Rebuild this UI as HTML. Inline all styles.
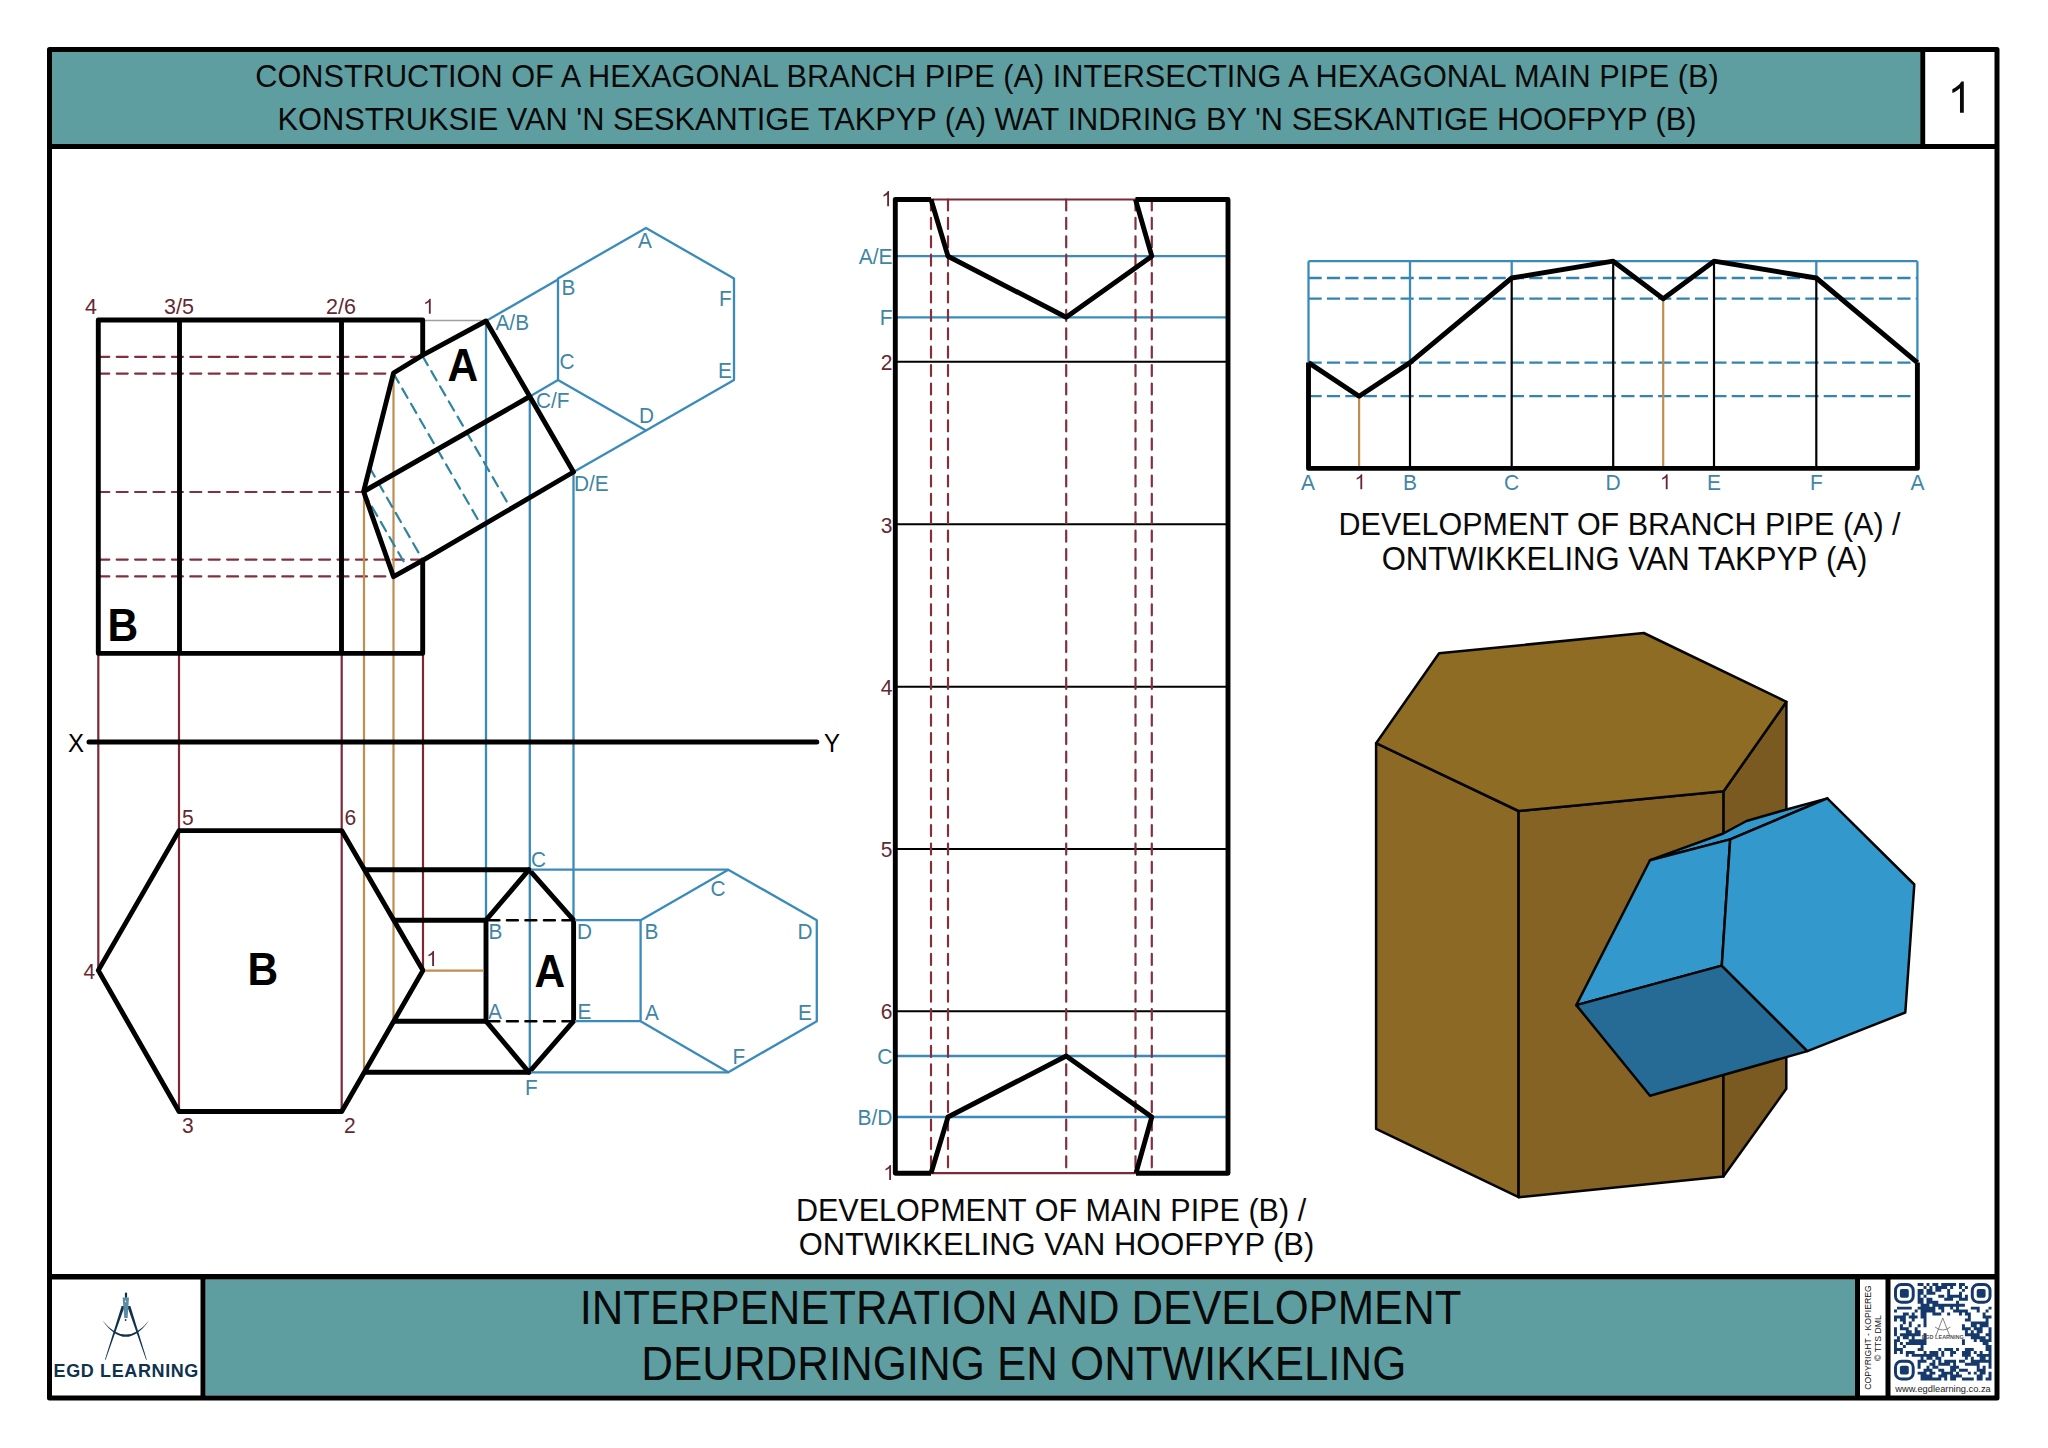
<!DOCTYPE html>
<html><head><meta charset="utf-8"><style>
html,body{margin:0;padding:0;background:#fff;width:2048px;height:1448px;overflow:hidden}
svg{display:block}
text{font-family:"Liberation Sans",sans-serif}
</style></head><body>
<svg width="2048" height="1448" viewBox="0 0 2048 1448">
<rect width="2048" height="1448" fill="#fff"/>
<rect x="52" y="52" width="1868" height="92" fill="#5F9EA0"/>
<rect x="205.5" y="1279.5" width="1649.5" height="116" fill="#5F9EA0"/>
<rect x="49.5" y="49.5" width="1947.5" height="1348.5" fill="none" stroke="#000" stroke-width="5" stroke-linejoin="round"/>
<line x1="49.5" y1="146.5" x2="1997" y2="146.5" stroke="#000" stroke-width="5" />
<line x1="1922.7" y1="49.5" x2="1922.7" y2="146.5" stroke="#000" stroke-width="5" />
<line x1="49.5" y1="1276.8" x2="1997" y2="1276.8" stroke="#000" stroke-width="5.5" />
<line x1="203" y1="1276.8" x2="203" y2="1398" stroke="#000" stroke-width="5" />
<line x1="1857.5" y1="1276.8" x2="1857.5" y2="1398" stroke="#000" stroke-width="5" />
<line x1="1888" y1="1276.8" x2="1888" y2="1398" stroke="#000" stroke-width="5" />
<text transform="translate(987,86.6) scale(1,1.04)" font-size="30.72" fill="#0a0a0a" text-anchor="middle" font-weight="normal" >CONSTRUCTION OF A HEXAGONAL BRANCH PIPE (A) INTERSECTING A HEXAGONAL MAIN PIPE (B)</text>
<text transform="translate(987,129.8) scale(1,1.04)" font-size="30.8" fill="#0a0a0a" text-anchor="middle" font-weight="normal" >KONSTRUKSIE VAN 'N SESKANTIGE TAKPYP (A) WAT INDRING BY 'N SESKANTIGE HOOFPYP (B)</text>
<path class="t" transform="translate(1947.6,112.7) scale(0.02124,-0.02124)" d="M763,0 L583,0 L583,1147 Q518,1085 413,1023 Q308,961 223,930 L223,1104 Q374,1175 487,1276 Q600,1377 647,1472 L763,1472 Z" fill="#0a0a0a"/>
<line x1="98.3" y1="356.8" x2="422.7" y2="356.8" stroke="#82303D" stroke-width="2.2" stroke-dasharray="11 7.4" stroke-linecap="round"/>
<line x1="98.3" y1="373.6" x2="393.5" y2="373.6" stroke="#82303D" stroke-width="2.2" stroke-dasharray="11 7.4" stroke-linecap="round"/>
<line x1="98.3" y1="492" x2="363.6" y2="492" stroke="#82303D" stroke-width="2.2" stroke-dasharray="11 7.4" stroke-linecap="round"/>
<line x1="98.3" y1="559.6" x2="422.7" y2="559.6" stroke="#82303D" stroke-width="2.2" stroke-dasharray="11 7.4" stroke-linecap="round"/>
<line x1="98.3" y1="576.4" x2="393.5" y2="576.4" stroke="#82303D" stroke-width="2.2" stroke-dasharray="11 7.4" stroke-linecap="round"/>
<line x1="98.3" y1="653.4" x2="98.3" y2="970.4" stroke="#7B2939" stroke-width="2.2" />
<line x1="179" y1="653.4" x2="179" y2="1111.5" stroke="#7B2939" stroke-width="2.2" />
<line x1="341.7" y1="653.4" x2="341.7" y2="1111.5" stroke="#7B2939" stroke-width="2.2" />
<line x1="423" y1="653.4" x2="423" y2="970.4" stroke="#7B2939" stroke-width="2.2" />
<line x1="364" y1="491.5" x2="364" y2="1071.4" stroke="#C08C50" stroke-width="2.2" />
<line x1="393.5" y1="373" x2="393.5" y2="1021.2" stroke="#C08C50" stroke-width="2.2" />
<line x1="486" y1="321" x2="486" y2="920.2" stroke="#3A8BBB" stroke-width="2.3" />
<line x1="529.8" y1="396.5" x2="529.8" y2="1072.3" stroke="#3A8BBB" stroke-width="2.3" />
<line x1="573.5" y1="472" x2="573.5" y2="920.2" stroke="#3A8BBB" stroke-width="2.3" />
<line x1="422.7" y1="320.5" x2="486" y2="320.5" stroke="#a0a0a0" stroke-width="1.5" />
<polygon points="646,228 734,278.5 734,380 646,430.5 558,380 558,278.5" fill="none" stroke="#3A8BBB" stroke-width="2.3" stroke-linejoin="round" />
<line x1="486" y1="321" x2="558" y2="279.5" stroke="#3A8BBB" stroke-width="2.3" />
<line x1="529.8" y1="396.5" x2="558" y2="380" stroke="#3A8BBB" stroke-width="2.3" />
<line x1="573.5" y1="472" x2="646" y2="430.5" stroke="#3A8BBB" stroke-width="2.3" />
<line x1="393.5" y1="373.5" x2="481.5" y2="525.8" stroke="#2F84A0" stroke-width="2.2" stroke-dasharray="10.5 7" stroke-linecap="round"/>
<line x1="422.5" y1="356" x2="510.5" y2="508" stroke="#2F84A0" stroke-width="2.2" stroke-dasharray="10.5 7" stroke-linecap="round"/>
<line x1="369.5" y1="467.4" x2="422.7" y2="559.8" stroke="#2F84A0" stroke-width="2.2" stroke-dasharray="10.5 7" stroke-linecap="round"/>
<line x1="363.2" y1="491.6" x2="407.7" y2="568.5" stroke="#2F84A0" stroke-width="2.2" stroke-dasharray="10.5 7" stroke-linecap="round"/>
<polyline points="422.7,355.2 422.7,320 98.3,320 98.3,653.4 422.7,653.4 422.7,560.4" fill="none" stroke="#000" stroke-width="4.9" stroke-linejoin="round" />
<line x1="179.5" y1="320" x2="179.5" y2="653.4" stroke="#000" stroke-width="4.9" />
<line x1="341.5" y1="320" x2="341.5" y2="653.4" stroke="#000" stroke-width="4.9" />
<polygon points="486,321 422.7,355.2 393.5,373 363.6,491.5 393.5,576.7 422.7,560.4 573.5,472 529.8,396.5" fill="none" stroke="#000" stroke-width="4.9" stroke-linejoin="round" />
<line x1="363.6" y1="491.5" x2="529.8" y2="396.5" stroke="#000" stroke-width="4.9" />
<text transform="translate(85,314) scale(1,1.04)" font-size="21.5" fill="#642833" text-anchor="start" font-weight="normal" >4</text>
<text transform="translate(164,314) scale(1,1.04)" font-size="21.5" fill="#642833" text-anchor="start" font-weight="normal" >3/5</text>
<text transform="translate(326,314) scale(1,1.04)" font-size="21.5" fill="#642833" text-anchor="start" font-weight="normal" >2/6</text>
<path class="t" transform="translate(422.9,313.8) scale(0.01025,-0.01025)" d="M763,0 L583,0 L583,1147 Q518,1085 413,1023 Q308,961 223,930 L223,1104 Q374,1175 487,1276 Q600,1377 647,1472 L763,1472 Z" fill="#642833"/>
<text transform="translate(638,247.6) scale(1,1.04)" font-size="20.8" fill="#3F86A6" text-anchor="start" font-weight="normal" >A</text>
<text transform="translate(561.5,295) scale(1,1.04)" font-size="20.8" fill="#3F86A6" text-anchor="start" font-weight="normal" >B</text>
<text transform="translate(719,305.6) scale(1,1.04)" font-size="20.8" fill="#3F86A6" text-anchor="start" font-weight="normal" >F</text>
<text transform="translate(495.5,330) scale(1,1.04)" font-size="20.8" fill="#3F86A6" text-anchor="start" font-weight="normal" >A/B</text>
<text transform="translate(559.5,369) scale(1,1.04)" font-size="20.8" fill="#3F86A6" text-anchor="start" font-weight="normal" >C</text>
<text transform="translate(718,378) scale(1,1.04)" font-size="20.8" fill="#3F86A6" text-anchor="start" font-weight="normal" >E</text>
<text transform="translate(536,408) scale(1,1.04)" font-size="20.8" fill="#3F86A6" text-anchor="start" font-weight="normal" >C/F</text>
<text transform="translate(639,422.7) scale(1,1.04)" font-size="20.8" fill="#3F86A6" text-anchor="start" font-weight="normal" >D</text>
<text transform="translate(574,491) scale(1,1.04)" font-size="20.8" fill="#3F86A6" text-anchor="start" font-weight="normal" >D/E</text>
<text transform="translate(447.5,381) scale(1,1.085)" font-size="42.5" fill="#000" text-anchor="start" font-weight="bold" >A</text>
<text transform="translate(107.5,640.6) scale(1,1.085)" font-size="42.5" fill="#000" text-anchor="start" font-weight="bold" >B</text>
<line x1="89" y1="742" x2="816.8" y2="742" stroke="#000" stroke-width="5" stroke-linecap="round"/>
<text transform="translate(68,751.5) scale(1,1.04)" font-size="24" fill="#000" text-anchor="start" font-weight="normal" >X</text>
<text transform="translate(824,751.5) scale(1,1.04)" font-size="24" fill="#000" text-anchor="start" font-weight="normal" >Y</text>
<polygon points="98.3,970.4 179,830.6 341.7,830.6 423,970.4 341.7,1111.5 179,1111.5" fill="none" stroke="#000" stroke-width="4.9" stroke-linejoin="round" />
<line x1="364.4" y1="869.7" x2="529" y2="869.7" stroke="#000" stroke-width="4.9" />
<line x1="393.8" y1="920.2" x2="486" y2="920.2" stroke="#000" stroke-width="4.9" />
<line x1="393.7" y1="1021.2" x2="486" y2="1021.2" stroke="#000" stroke-width="4.9" />
<line x1="364.3" y1="1072.3" x2="529" y2="1072.3" stroke="#000" stroke-width="4.9" />
<polygon points="486,920.2 529,869.7 573.6,920.2 573.6,1021.2 529,1072.3 486,1021.2" fill="none" stroke="#000" stroke-width="4.9" stroke-linejoin="round" />
<line x1="488.5" y1="920.2" x2="573.6" y2="920.2" stroke="#000" stroke-width="2.6" stroke-dasharray="10.8 7.7" stroke-linecap="round"/>
<line x1="488.5" y1="1021.2" x2="573.6" y2="1021.2" stroke="#000" stroke-width="2.6" stroke-dasharray="10.8 7.7" stroke-linecap="round"/>
<line x1="531" y1="869.7" x2="728.3" y2="869.7" stroke="#3A8BBB" stroke-width="2.3" />
<line x1="575" y1="920.2" x2="640.6" y2="920.2" stroke="#3A8BBB" stroke-width="2.3" />
<line x1="575" y1="1021.2" x2="640.6" y2="1021.2" stroke="#3A8BBB" stroke-width="2.3" />
<line x1="531" y1="1072.3" x2="728.3" y2="1072.3" stroke="#3A8BBB" stroke-width="2.3" />
<polygon points="728.3,869.7 816.8,920.2 816.8,1021.2 728.3,1072.3 640.6,1021.2 640.6,920.2" fill="none" stroke="#3A8BBB" stroke-width="2.3" stroke-linejoin="round" />
<line x1="425" y1="970.7" x2="484" y2="970.7" stroke="#C08C50" stroke-width="2.2" />
<text transform="translate(182,825) scale(1,1.04)" font-size="21" fill="#642833" text-anchor="start" font-weight="normal" >5</text>
<text transform="translate(344.5,825) scale(1,1.04)" font-size="21" fill="#642833" text-anchor="start" font-weight="normal" >6</text>
<text transform="translate(83.5,979) scale(1,1.04)" font-size="21" fill="#642833" text-anchor="start" font-weight="normal" >4</text>
<path class="t" transform="translate(426.2,966) scale(0.01025,-0.01025)" d="M763,0 L583,0 L583,1147 Q518,1085 413,1023 Q308,961 223,930 L223,1104 Q374,1175 487,1276 Q600,1377 647,1472 L763,1472 Z" fill="#642833"/>
<text transform="translate(182,1133) scale(1,1.04)" font-size="21" fill="#642833" text-anchor="start" font-weight="normal" >3</text>
<text transform="translate(344,1133) scale(1,1.04)" font-size="21" fill="#642833" text-anchor="start" font-weight="normal" >2</text>
<text transform="translate(531,866.5) scale(1,1.04)" font-size="20.8" fill="#3F86A6" text-anchor="start" font-weight="normal" >C</text>
<text transform="translate(488.5,938.5) scale(1,1.04)" font-size="20.8" fill="#3F86A6" text-anchor="start" font-weight="normal" >B</text>
<text transform="translate(577,938.5) scale(1,1.04)" font-size="20.8" fill="#3F86A6" text-anchor="start" font-weight="normal" >D</text>
<text transform="translate(488,1019) scale(1,1.04)" font-size="20.8" fill="#3F86A6" text-anchor="start" font-weight="normal" >A</text>
<text transform="translate(577.5,1019) scale(1,1.04)" font-size="20.8" fill="#3F86A6" text-anchor="start" font-weight="normal" >E</text>
<text transform="translate(525,1095) scale(1,1.04)" font-size="20.8" fill="#3F86A6" text-anchor="start" font-weight="normal" >F</text>
<text transform="translate(710.5,895.5) scale(1,1.04)" font-size="20.8" fill="#3F86A6" text-anchor="start" font-weight="normal" >C</text>
<text transform="translate(644.5,938.5) scale(1,1.04)" font-size="20.8" fill="#3F86A6" text-anchor="start" font-weight="normal" >B</text>
<text transform="translate(797.5,938.5) scale(1,1.04)" font-size="20.8" fill="#3F86A6" text-anchor="start" font-weight="normal" >D</text>
<text transform="translate(645,1020) scale(1,1.04)" font-size="20.8" fill="#3F86A6" text-anchor="start" font-weight="normal" >A</text>
<text transform="translate(798,1020) scale(1,1.04)" font-size="20.8" fill="#3F86A6" text-anchor="start" font-weight="normal" >E</text>
<text transform="translate(732.5,1064) scale(1,1.04)" font-size="20.8" fill="#3F86A6" text-anchor="start" font-weight="normal" >F</text>
<text transform="translate(247.5,984.5) scale(1,1.085)" font-size="42.5" fill="#000" text-anchor="start" font-weight="bold" >B</text>
<text transform="translate(534.5,986.8) scale(1,1.085)" font-size="42.5" fill="#000" text-anchor="start" font-weight="bold" >A</text>
<line x1="895.3" y1="361.8" x2="1228" y2="361.8" stroke="#000" stroke-width="2" />
<line x1="895.3" y1="524.3" x2="1228" y2="524.3" stroke="#000" stroke-width="2" />
<line x1="895.3" y1="686.7" x2="1228" y2="686.7" stroke="#000" stroke-width="2" />
<line x1="895.3" y1="849" x2="1228" y2="849" stroke="#000" stroke-width="2" />
<line x1="895.3" y1="1011.3" x2="1228" y2="1011.3" stroke="#000" stroke-width="2" />
<line x1="895.3" y1="256.2" x2="1228" y2="256.2" stroke="#3A8BBB" stroke-width="2.3" />
<line x1="895.3" y1="317.3" x2="1228" y2="317.3" stroke="#3A8BBB" stroke-width="2.3" />
<line x1="895.3" y1="1056" x2="1228" y2="1056" stroke="#3A8BBB" stroke-width="2.3" />
<line x1="895.3" y1="1117" x2="1228" y2="1117" stroke="#3A8BBB" stroke-width="2.3" />
<line x1="931" y1="199.5" x2="931" y2="1173.2" stroke="#82303D" stroke-width="2.2" stroke-dasharray="11 7.4" stroke-linecap="round"/>
<line x1="948" y1="199.5" x2="948" y2="1173.2" stroke="#82303D" stroke-width="2.2" stroke-dasharray="11 7.4" stroke-linecap="round"/>
<line x1="1066.2" y1="199.5" x2="1066.2" y2="1173.2" stroke="#82303D" stroke-width="2.2" stroke-dasharray="11 7.4" stroke-linecap="round"/>
<line x1="1135.5" y1="199.5" x2="1135.5" y2="1173.2" stroke="#82303D" stroke-width="2.2" stroke-dasharray="11 7.4" stroke-linecap="round"/>
<line x1="1151.8" y1="199.5" x2="1151.8" y2="1173.2" stroke="#82303D" stroke-width="2.2" stroke-dasharray="11 7.4" stroke-linecap="round"/>
<line x1="931" y1="199.5" x2="1135.5" y2="199.5" stroke="#7B2939" stroke-width="2.2" />
<line x1="931" y1="1173.2" x2="1136" y2="1173.2" stroke="#7B2939" stroke-width="2.2" />
<polyline points="931,199.5 895.3,199.5 895.3,1173.2 931,1173.2" fill="none" stroke="#000" stroke-width="4.9" stroke-linejoin="round" />
<polyline points="1135.5,199.5 1228,199.5 1228,1173.2 1136,1173.2" fill="none" stroke="#000" stroke-width="4.9" stroke-linejoin="round" />
<polyline points="931,199.5 948,256.2 1066.2,317.3 1151.8,256.2 1135.5,199.5" fill="none" stroke="#000" stroke-width="4.9" stroke-linejoin="round" />
<polyline points="931,1173.2 948,1117 1066.2,1056 1151.8,1117 1136,1173.2" fill="none" stroke="#000" stroke-width="4.9" stroke-linejoin="round" />
<path class="t" transform="translate(881.2,206.2) scale(0.01025,-0.01025)" d="M763,0 L583,0 L583,1147 Q518,1085 413,1023 Q308,961 223,930 L223,1104 Q374,1175 487,1276 Q600,1377 647,1472 L763,1472 Z" fill="#642833"/>
<path class="t" transform="translate(883.2,1180) scale(0.01025,-0.01025)" d="M763,0 L583,0 L583,1147 Q518,1085 413,1023 Q308,961 223,930 L223,1104 Q374,1175 487,1276 Q600,1377 647,1472 L763,1472 Z" fill="#642833"/>
<text transform="translate(892.5,264) scale(1,1.04)" font-size="21" fill="#3F86A6" text-anchor="end" font-weight="normal" >A/E</text>
<text transform="translate(892.5,324.5) scale(1,1.04)" font-size="21" fill="#3F86A6" text-anchor="end" font-weight="normal" >F</text>
<text transform="translate(892.5,369.5) scale(1,1.04)" font-size="21" fill="#642833" text-anchor="end" font-weight="normal" >2</text>
<text transform="translate(892.5,532.5) scale(1,1.04)" font-size="21" fill="#642833" text-anchor="end" font-weight="normal" >3</text>
<text transform="translate(892.5,694.5) scale(1,1.04)" font-size="21" fill="#642833" text-anchor="end" font-weight="normal" >4</text>
<text transform="translate(892.5,857) scale(1,1.04)" font-size="21" fill="#642833" text-anchor="end" font-weight="normal" >5</text>
<text transform="translate(892.5,1019.3) scale(1,1.04)" font-size="21" fill="#642833" text-anchor="end" font-weight="normal" >6</text>
<text transform="translate(892.5,1064) scale(1,1.04)" font-size="21" fill="#3F86A6" text-anchor="end" font-weight="normal" >C</text>
<text transform="translate(892.5,1124.8) scale(1,1.04)" font-size="21" fill="#3F86A6" text-anchor="end" font-weight="normal" >B/D</text>
<text transform="translate(1051,1221.3) scale(1,1.04)" font-size="30.55" fill="#0a0a0a" text-anchor="middle" font-weight="normal" >DEVELOPMENT OF MAIN PIPE (B) /</text>
<text transform="translate(1056.5,1254.8) scale(1,1.04)" font-size="30.9" fill="#0a0a0a" text-anchor="middle" font-weight="normal" >ONTWIKKELING VAN HOOFPYP (B)</text>
<line x1="1308.5" y1="278" x2="1917.4" y2="278" stroke="#3384AE" stroke-width="2.3" stroke-dasharray="13.2 5.2"/>
<line x1="1308.5" y1="298.7" x2="1917.4" y2="298.7" stroke="#3384AE" stroke-width="2.3" stroke-dasharray="13.2 5.2"/>
<line x1="1308.5" y1="362.6" x2="1917.4" y2="362.6" stroke="#3384AE" stroke-width="2.3" stroke-dasharray="13.2 5.2"/>
<line x1="1308.5" y1="396.2" x2="1917.4" y2="396.2" stroke="#3384AE" stroke-width="2.3" stroke-dasharray="13.2 5.2"/>
<line x1="1308.5" y1="261.2" x2="1917.4" y2="261.2" stroke="#3A8BBB" stroke-width="2.3" />
<line x1="1308.5" y1="261.2" x2="1308.5" y2="362.6" stroke="#3A8BBB" stroke-width="2.3" />
<line x1="1410" y1="261.2" x2="1410" y2="362.6" stroke="#3A8BBB" stroke-width="2.3" />
<line x1="1511.7" y1="261.2" x2="1511.7" y2="278" stroke="#3A8BBB" stroke-width="2.3" />
<line x1="1816.3" y1="261.2" x2="1816.3" y2="278" stroke="#3A8BBB" stroke-width="2.3" />
<line x1="1917.4" y1="261.2" x2="1917.4" y2="362.6" stroke="#3A8BBB" stroke-width="2.3" />
<line x1="1410" y1="362.6" x2="1410" y2="468.4" stroke="#000" stroke-width="2.2" />
<line x1="1511.7" y1="278" x2="1511.7" y2="468.4" stroke="#000" stroke-width="2.2" />
<line x1="1613.2" y1="261.2" x2="1613.2" y2="468.4" stroke="#000" stroke-width="2.2" />
<line x1="1714" y1="261.2" x2="1714" y2="468.4" stroke="#000" stroke-width="2.2" />
<line x1="1816.3" y1="278" x2="1816.3" y2="468.4" stroke="#000" stroke-width="2.2" />
<line x1="1359.1" y1="396.2" x2="1359.1" y2="468.4" stroke="#C08C50" stroke-width="2.2" />
<line x1="1663.2" y1="298.7" x2="1663.2" y2="468.4" stroke="#C08C50" stroke-width="2.2" />
<polyline points="1308.5,362.6 1308.5,468.4 1917.4,468.4 1917.4,362.6" fill="none" stroke="#000" stroke-width="4.9" stroke-linejoin="round" />
<polyline points="1308.5,362.6 1359.1,396.2 1410,362.6 1511.7,278 1613.2,261.2 1663.2,298.7 1714,261.2 1816.3,278 1917.4,362.6" fill="none" stroke="#000" stroke-width="4.9" stroke-linejoin="round" />
<path class="t" transform="translate(1354.4,489.3) scale(0.01025,-0.01025)" d="M763,0 L583,0 L583,1147 Q518,1085 413,1023 Q308,961 223,930 L223,1104 Q374,1175 487,1276 Q600,1377 647,1472 L763,1472 Z" fill="#642833"/>
<path class="t" transform="translate(1659.8,489.3) scale(0.01025,-0.01025)" d="M763,0 L583,0 L583,1147 Q518,1085 413,1023 Q308,961 223,930 L223,1104 Q374,1175 487,1276 Q600,1377 647,1472 L763,1472 Z" fill="#642833"/>
<text transform="translate(1308,489.5) scale(1,1.04)" font-size="21" fill="#3F86A6" text-anchor="middle" font-weight="normal" >A</text>
<text transform="translate(1410,489.5) scale(1,1.04)" font-size="21" fill="#3F86A6" text-anchor="middle" font-weight="normal" >B</text>
<text transform="translate(1511.7,489.5) scale(1,1.04)" font-size="21" fill="#3F86A6" text-anchor="middle" font-weight="normal" >C</text>
<text transform="translate(1613.2,489.5) scale(1,1.04)" font-size="21" fill="#3F86A6" text-anchor="middle" font-weight="normal" >D</text>
<text transform="translate(1714,489.5) scale(1,1.04)" font-size="21" fill="#3F86A6" text-anchor="middle" font-weight="normal" >E</text>
<text transform="translate(1816.3,489.5) scale(1,1.04)" font-size="21" fill="#3F86A6" text-anchor="middle" font-weight="normal" >F</text>
<text transform="translate(1917.5,489.5) scale(1,1.04)" font-size="21" fill="#3F86A6" text-anchor="middle" font-weight="normal" >A</text>
<text transform="translate(1619.5,535.2) scale(1,1.04)" font-size="30.5" fill="#0a0a0a" text-anchor="middle" font-weight="normal" >DEVELOPMENT OF BRANCH PIPE (A) /</text>
<text transform="translate(1624.5,569.5) scale(1,1.04)" font-size="31.05" fill="#0a0a0a" text-anchor="middle" font-weight="normal" >ONTWIKKELING VAN TAKPYP (A)</text>
<polygon points="1376.1,743.2 1518.6,811 1518.6,1197.2 1376.1,1128.8" fill="#8C6A25" stroke="#050505" stroke-width="2.5" stroke-linejoin="round"/>
<polygon points="1518.6,811 1723.6,791.2 1723.4,1176.6 1518.6,1197.2" fill="#856325" stroke="#050505" stroke-width="2.5" stroke-linejoin="round"/>
<polygon points="1723.6,791.2 1786.4,701.8 1786.3,1088.8 1723.4,1176.6" fill="#7A5A21" stroke="#050505" stroke-width="2.5" stroke-linejoin="round"/>
<polygon points="1439.1,653.3 1643.8,633 1786.4,701.8 1723.6,791.2 1518.6,811 1376.1,743.2" fill="#8E6C24" stroke="#050505" stroke-width="2.5" stroke-linejoin="round"/>
<polygon points="1650,860.2 1723.3,833.5 1746.5,821 1785.7,809.7 1827.3,798.4 1730.2,839.4" fill="#3399CC" stroke="#050505" stroke-width="2.5" stroke-linejoin="round"/>
<polygon points="1650,860.2 1730.2,839.4 1721.8,965.6 1576.3,1005.1" fill="#3399CC" stroke="#050505" stroke-width="2.5" stroke-linejoin="round"/>
<polygon points="1576.3,1005.1 1721.8,965.6 1807.4,1051.1 1650,1095.7" fill="#266A96" stroke="#050505" stroke-width="2.5" stroke-linejoin="round"/>
<polygon points="1827.3,798.4 1914.3,884.5 1905.3,1012.5 1807.4,1051.1 1721.8,965.6 1730.2,839.4" fill="#3399CC" stroke="#050505" stroke-width="2.5" stroke-linejoin="round"/>
<text transform="translate(1020.5,1323.9) scale(1,1.09)" font-size="43.65" fill="#0a0a0a" text-anchor="middle" font-weight="normal" >INTERPENETRATION AND DEVELOPMENT</text>
<text transform="translate(1023.8,1379.5) scale(1,1.09)" font-size="43.85" fill="#0a0a0a" text-anchor="middle" font-weight="normal" >DEURDRINGING EN ONTWIKKELING</text>
<path d="M121.6,1306 L124.8,1306 L105.6,1359.8 L104.9,1359.8 Z" fill="#10324D"/>
<path d="M127.2,1306 L130.4,1306 L146.8,1359.8 L146.1,1359.8 Z" fill="#10324D"/>
<path d="M102.3,1320.2 Q125.8,1353.5 149.3,1320.2 Q125.8,1349 102.3,1320.2 Z" fill="#10324D"/>
<path d="M122.6,1297.6 L129,1297.6 L127.6,1318 L124.3,1318 Z" fill="#5A8CA5"/>
<rect x="124.9" y="1292.4" width="2.2" height="5.4" rx="1" fill="#10324D"/>
<circle cx="125.6" cy="1301.4" r="0.8" fill="#d8eef5"/>
<circle cx="125.6" cy="1320" r="0.9" fill="#10324D"/>
<text transform="translate(126.3,1377.2) scale(1,0.98)" font-size="18" fill="#10324D" text-anchor="middle" font-weight="bold" letter-spacing="0.62">EGD LEARNING</text>
<text transform="translate(1871,1337.5) rotate(-90)" font-size="8.7" fill="#111" text-anchor="middle">COPYRIGHT - KOPIEREG</text>
<text transform="translate(1881,1338) rotate(-90)" font-size="8.7" fill="#111" text-anchor="middle">© TTS DML</text>
<rect x="1895.4772727272727" y="1284.4772727272727" width="17.727272727272727" height="17.727272727272727" rx="5.909090909090909" fill="none" stroke="#14396A" stroke-width="2.9545454545454546"/>
<rect x="1899.909090909091" y="1288.909090909091" width="8.863636363636363" height="8.863636363636363" rx="1.7727272727272727" fill="#14396A"/>
<rect x="1972.2954545454545" y="1284.4772727272727" width="17.727272727272727" height="17.727272727272727" rx="5.909090909090909" fill="none" stroke="#14396A" stroke-width="2.9545454545454546"/>
<rect x="1976.7272727272727" y="1288.909090909091" width="8.863636363636363" height="8.863636363636363" rx="1.7727272727272727" fill="#14396A"/>
<rect x="1895.4772727272727" y="1361.2954545454545" width="17.727272727272727" height="17.727272727272727" rx="5.909090909090909" fill="none" stroke="#14396A" stroke-width="2.9545454545454546"/>
<rect x="1899.909090909091" y="1365.7272727272727" width="8.863636363636363" height="8.863636363636363" rx="1.7727272727272727" fill="#14396A"/>
<path d="M1917.64,1283.00h2.95v2.95h-2.95zM1920.59,1283.00h2.95v2.95h-2.95zM1926.50,1283.00h2.95v2.95h-2.95zM1932.41,1283.00h2.95v2.95h-2.95zM1935.36,1283.00h2.95v2.95h-2.95zM1941.27,1283.00h2.95v2.95h-2.95zM1944.23,1283.00h2.95v2.95h-2.95zM1947.18,1283.00h2.95v2.95h-2.95zM1950.14,1283.00h2.95v2.95h-2.95zM1953.09,1283.00h2.95v2.95h-2.95zM1959.00,1283.00h2.95v2.95h-2.95zM1961.95,1283.00h2.95v2.95h-2.95zM1923.55,1285.95h2.95v2.95h-2.95zM1929.45,1285.95h2.95v2.95h-2.95zM1935.36,1285.95h2.95v2.95h-2.95zM1938.32,1285.95h2.95v2.95h-2.95zM1941.27,1285.95h2.95v2.95h-2.95zM1944.23,1285.95h2.95v2.95h-2.95zM1950.14,1285.95h2.95v2.95h-2.95zM1959.00,1285.95h2.95v2.95h-2.95zM1964.91,1285.95h2.95v2.95h-2.95zM1917.64,1288.91h2.95v2.95h-2.95zM1920.59,1288.91h2.95v2.95h-2.95zM1926.50,1288.91h2.95v2.95h-2.95zM1929.45,1288.91h2.95v2.95h-2.95zM1935.36,1288.91h2.95v2.95h-2.95zM1938.32,1288.91h2.95v2.95h-2.95zM1947.18,1288.91h2.95v2.95h-2.95zM1961.95,1288.91h2.95v2.95h-2.95zM1917.64,1291.86h2.95v2.95h-2.95zM1920.59,1291.86h2.95v2.95h-2.95zM1926.50,1291.86h2.95v2.95h-2.95zM1929.45,1291.86h2.95v2.95h-2.95zM1932.41,1291.86h2.95v2.95h-2.95zM1947.18,1291.86h2.95v2.95h-2.95zM1959.00,1291.86h2.95v2.95h-2.95zM1917.64,1294.82h2.95v2.95h-2.95zM1923.55,1294.82h2.95v2.95h-2.95zM1938.32,1294.82h2.95v2.95h-2.95zM1941.27,1294.82h2.95v2.95h-2.95zM1947.18,1294.82h2.95v2.95h-2.95zM1950.14,1294.82h2.95v2.95h-2.95zM1953.09,1294.82h2.95v2.95h-2.95zM1956.05,1294.82h2.95v2.95h-2.95zM1959.00,1294.82h2.95v2.95h-2.95zM1964.91,1294.82h2.95v2.95h-2.95zM1917.64,1297.77h2.95v2.95h-2.95zM1920.59,1297.77h2.95v2.95h-2.95zM1926.50,1297.77h2.95v2.95h-2.95zM1929.45,1297.77h2.95v2.95h-2.95zM1944.23,1297.77h2.95v2.95h-2.95zM1947.18,1297.77h2.95v2.95h-2.95zM1950.14,1297.77h2.95v2.95h-2.95zM1959.00,1297.77h2.95v2.95h-2.95zM1961.95,1297.77h2.95v2.95h-2.95zM1964.91,1297.77h2.95v2.95h-2.95zM1917.64,1300.73h2.95v2.95h-2.95zM1920.59,1300.73h2.95v2.95h-2.95zM1926.50,1300.73h2.95v2.95h-2.95zM1929.45,1300.73h2.95v2.95h-2.95zM1932.41,1300.73h2.95v2.95h-2.95zM1935.36,1300.73h2.95v2.95h-2.95zM1956.05,1300.73h2.95v2.95h-2.95zM1920.59,1303.68h2.95v2.95h-2.95zM1923.55,1303.68h2.95v2.95h-2.95zM1926.50,1303.68h2.95v2.95h-2.95zM1932.41,1303.68h2.95v2.95h-2.95zM1935.36,1303.68h2.95v2.95h-2.95zM1938.32,1303.68h2.95v2.95h-2.95zM1941.27,1303.68h2.95v2.95h-2.95zM1944.23,1303.68h2.95v2.95h-2.95zM1947.18,1303.68h2.95v2.95h-2.95zM1950.14,1303.68h2.95v2.95h-2.95zM1953.09,1303.68h2.95v2.95h-2.95zM1956.05,1303.68h2.95v2.95h-2.95zM1959.00,1303.68h2.95v2.95h-2.95zM1961.95,1303.68h2.95v2.95h-2.95zM1896.95,1306.64h2.95v2.95h-2.95zM1899.91,1306.64h2.95v2.95h-2.95zM1902.86,1306.64h2.95v2.95h-2.95zM1905.82,1306.64h2.95v2.95h-2.95zM1908.77,1306.64h2.95v2.95h-2.95zM1917.64,1306.64h2.95v2.95h-2.95zM1920.59,1306.64h2.95v2.95h-2.95zM1923.55,1306.64h2.95v2.95h-2.95zM1926.50,1306.64h2.95v2.95h-2.95zM1929.45,1306.64h2.95v2.95h-2.95zM1932.41,1306.64h2.95v2.95h-2.95zM1938.32,1306.64h2.95v2.95h-2.95zM1941.27,1306.64h2.95v2.95h-2.95zM1950.14,1306.64h2.95v2.95h-2.95zM1956.05,1306.64h2.95v2.95h-2.95zM1970.82,1306.64h2.95v2.95h-2.95zM1973.77,1306.64h2.95v2.95h-2.95zM1976.73,1306.64h2.95v2.95h-2.95zM1988.55,1306.64h2.95v2.95h-2.95zM1894.00,1309.59h2.95v2.95h-2.95zM1914.68,1309.59h2.95v2.95h-2.95zM1920.59,1309.59h2.95v2.95h-2.95zM1923.55,1309.59h2.95v2.95h-2.95zM1926.50,1309.59h2.95v2.95h-2.95zM1929.45,1309.59h2.95v2.95h-2.95zM1932.41,1309.59h2.95v2.95h-2.95zM1941.27,1309.59h2.95v2.95h-2.95zM1953.09,1309.59h2.95v2.95h-2.95zM1956.05,1309.59h2.95v2.95h-2.95zM1959.00,1309.59h2.95v2.95h-2.95zM1961.95,1309.59h2.95v2.95h-2.95zM1964.91,1309.59h2.95v2.95h-2.95zM1976.73,1309.59h2.95v2.95h-2.95zM1985.59,1309.59h2.95v2.95h-2.95zM1902.86,1312.55h2.95v2.95h-2.95zM1905.82,1312.55h2.95v2.95h-2.95zM1911.73,1312.55h2.95v2.95h-2.95zM1920.59,1312.55h2.95v2.95h-2.95zM1923.55,1312.55h2.95v2.95h-2.95zM1932.41,1312.55h2.95v2.95h-2.95zM1935.36,1312.55h2.95v2.95h-2.95zM1938.32,1312.55h2.95v2.95h-2.95zM1947.18,1312.55h2.95v2.95h-2.95zM1959.00,1312.55h2.95v2.95h-2.95zM1964.91,1312.55h2.95v2.95h-2.95zM1967.86,1312.55h2.95v2.95h-2.95zM1982.64,1312.55h2.95v2.95h-2.95zM1894.00,1315.50h2.95v2.95h-2.95zM1896.95,1315.50h2.95v2.95h-2.95zM1899.91,1315.50h2.95v2.95h-2.95zM1902.86,1315.50h2.95v2.95h-2.95zM1908.77,1315.50h2.95v2.95h-2.95zM1911.73,1315.50h2.95v2.95h-2.95zM1914.68,1315.50h2.95v2.95h-2.95zM1920.59,1315.50h2.95v2.95h-2.95zM1923.55,1315.50h2.95v2.95h-2.95zM1967.86,1315.50h2.95v2.95h-2.95zM1982.64,1315.50h2.95v2.95h-2.95zM1985.59,1315.50h2.95v2.95h-2.95zM1988.55,1315.50h2.95v2.95h-2.95zM1894.00,1318.45h2.95v2.95h-2.95zM1899.91,1318.45h2.95v2.95h-2.95zM1902.86,1318.45h2.95v2.95h-2.95zM1911.73,1318.45h2.95v2.95h-2.95zM1923.55,1318.45h2.95v2.95h-2.95zM1964.91,1318.45h2.95v2.95h-2.95zM1967.86,1318.45h2.95v2.95h-2.95zM1985.59,1318.45h2.95v2.95h-2.95zM1902.86,1321.41h2.95v2.95h-2.95zM1908.77,1321.41h2.95v2.95h-2.95zM1923.55,1321.41h2.95v2.95h-2.95zM1970.82,1321.41h2.95v2.95h-2.95zM1973.77,1321.41h2.95v2.95h-2.95zM1976.73,1321.41h2.95v2.95h-2.95zM1979.68,1321.41h2.95v2.95h-2.95zM1982.64,1321.41h2.95v2.95h-2.95zM1985.59,1321.41h2.95v2.95h-2.95zM1899.91,1324.36h2.95v2.95h-2.95zM1908.77,1324.36h2.95v2.95h-2.95zM1917.64,1324.36h2.95v2.95h-2.95zM1923.55,1324.36h2.95v2.95h-2.95zM1961.95,1324.36h2.95v2.95h-2.95zM1970.82,1324.36h2.95v2.95h-2.95zM1973.77,1324.36h2.95v2.95h-2.95zM1979.68,1324.36h2.95v2.95h-2.95zM1982.64,1324.36h2.95v2.95h-2.95zM1985.59,1324.36h2.95v2.95h-2.95zM1894.00,1327.32h2.95v2.95h-2.95zM1899.91,1327.32h2.95v2.95h-2.95zM1902.86,1327.32h2.95v2.95h-2.95zM1905.82,1327.32h2.95v2.95h-2.95zM1914.68,1327.32h2.95v2.95h-2.95zM1961.95,1327.32h2.95v2.95h-2.95zM1964.91,1327.32h2.95v2.95h-2.95zM1967.86,1327.32h2.95v2.95h-2.95zM1973.77,1327.32h2.95v2.95h-2.95zM1976.73,1327.32h2.95v2.95h-2.95zM1979.68,1327.32h2.95v2.95h-2.95zM1988.55,1327.32h2.95v2.95h-2.95zM1894.00,1330.27h2.95v2.95h-2.95zM1905.82,1330.27h2.95v2.95h-2.95zM1908.77,1330.27h2.95v2.95h-2.95zM1914.68,1330.27h2.95v2.95h-2.95zM1917.64,1330.27h2.95v2.95h-2.95zM1964.91,1330.27h2.95v2.95h-2.95zM1970.82,1330.27h2.95v2.95h-2.95zM1976.73,1330.27h2.95v2.95h-2.95zM1979.68,1330.27h2.95v2.95h-2.95zM1988.55,1330.27h2.95v2.95h-2.95zM1894.00,1333.23h2.95v2.95h-2.95zM1899.91,1333.23h2.95v2.95h-2.95zM1902.86,1333.23h2.95v2.95h-2.95zM1905.82,1333.23h2.95v2.95h-2.95zM1908.77,1333.23h2.95v2.95h-2.95zM1911.73,1333.23h2.95v2.95h-2.95zM1914.68,1333.23h2.95v2.95h-2.95zM1917.64,1333.23h2.95v2.95h-2.95zM1923.55,1333.23h2.95v2.95h-2.95zM1964.91,1333.23h2.95v2.95h-2.95zM1967.86,1333.23h2.95v2.95h-2.95zM1970.82,1333.23h2.95v2.95h-2.95zM1973.77,1333.23h2.95v2.95h-2.95zM1976.73,1333.23h2.95v2.95h-2.95zM1985.59,1333.23h2.95v2.95h-2.95zM1988.55,1333.23h2.95v2.95h-2.95zM1896.95,1336.18h2.95v2.95h-2.95zM1902.86,1336.18h2.95v2.95h-2.95zM1905.82,1336.18h2.95v2.95h-2.95zM1911.73,1336.18h2.95v2.95h-2.95zM1923.55,1336.18h2.95v2.95h-2.95zM1970.82,1336.18h2.95v2.95h-2.95zM1973.77,1336.18h2.95v2.95h-2.95zM1976.73,1336.18h2.95v2.95h-2.95zM1979.68,1336.18h2.95v2.95h-2.95zM1982.64,1336.18h2.95v2.95h-2.95zM1988.55,1336.18h2.95v2.95h-2.95zM1894.00,1339.14h2.95v2.95h-2.95zM1896.95,1339.14h2.95v2.95h-2.95zM1908.77,1339.14h2.95v2.95h-2.95zM1911.73,1339.14h2.95v2.95h-2.95zM1914.68,1339.14h2.95v2.95h-2.95zM1917.64,1339.14h2.95v2.95h-2.95zM1920.59,1339.14h2.95v2.95h-2.95zM1923.55,1339.14h2.95v2.95h-2.95zM1961.95,1339.14h2.95v2.95h-2.95zM1973.77,1339.14h2.95v2.95h-2.95zM1979.68,1339.14h2.95v2.95h-2.95zM1982.64,1339.14h2.95v2.95h-2.95zM1985.59,1339.14h2.95v2.95h-2.95zM1988.55,1339.14h2.95v2.95h-2.95zM1894.00,1342.09h2.95v2.95h-2.95zM1899.91,1342.09h2.95v2.95h-2.95zM1905.82,1342.09h2.95v2.95h-2.95zM1908.77,1342.09h2.95v2.95h-2.95zM1911.73,1342.09h2.95v2.95h-2.95zM1914.68,1342.09h2.95v2.95h-2.95zM1917.64,1342.09h2.95v2.95h-2.95zM1920.59,1342.09h2.95v2.95h-2.95zM1923.55,1342.09h2.95v2.95h-2.95zM1961.95,1342.09h2.95v2.95h-2.95zM1982.64,1342.09h2.95v2.95h-2.95zM1985.59,1342.09h2.95v2.95h-2.95zM1894.00,1345.05h2.95v2.95h-2.95zM1902.86,1345.05h2.95v2.95h-2.95zM1920.59,1345.05h2.95v2.95h-2.95zM1985.59,1345.05h2.95v2.95h-2.95zM1988.55,1345.05h2.95v2.95h-2.95zM1894.00,1348.00h2.95v2.95h-2.95zM1896.95,1348.00h2.95v2.95h-2.95zM1899.91,1348.00h2.95v2.95h-2.95zM1917.64,1348.00h2.95v2.95h-2.95zM1920.59,1348.00h2.95v2.95h-2.95zM1938.32,1348.00h2.95v2.95h-2.95zM1944.23,1348.00h2.95v2.95h-2.95zM1947.18,1348.00h2.95v2.95h-2.95zM1950.14,1348.00h2.95v2.95h-2.95zM1956.05,1348.00h2.95v2.95h-2.95zM1964.91,1348.00h2.95v2.95h-2.95zM1967.86,1348.00h2.95v2.95h-2.95zM1970.82,1348.00h2.95v2.95h-2.95zM1985.59,1348.00h2.95v2.95h-2.95zM1988.55,1348.00h2.95v2.95h-2.95zM1894.00,1350.95h2.95v2.95h-2.95zM1899.91,1350.95h2.95v2.95h-2.95zM1905.82,1350.95h2.95v2.95h-2.95zM1908.77,1350.95h2.95v2.95h-2.95zM1911.73,1350.95h2.95v2.95h-2.95zM1923.55,1350.95h2.95v2.95h-2.95zM1929.45,1350.95h2.95v2.95h-2.95zM1932.41,1350.95h2.95v2.95h-2.95zM1935.36,1350.95h2.95v2.95h-2.95zM1941.27,1350.95h2.95v2.95h-2.95zM1950.14,1350.95h2.95v2.95h-2.95zM1953.09,1350.95h2.95v2.95h-2.95zM1961.95,1350.95h2.95v2.95h-2.95zM1964.91,1350.95h2.95v2.95h-2.95zM1967.86,1350.95h2.95v2.95h-2.95zM1973.77,1350.95h2.95v2.95h-2.95zM1979.68,1350.95h2.95v2.95h-2.95zM1988.55,1350.95h2.95v2.95h-2.95zM1905.82,1353.91h2.95v2.95h-2.95zM1911.73,1353.91h2.95v2.95h-2.95zM1914.68,1353.91h2.95v2.95h-2.95zM1917.64,1353.91h2.95v2.95h-2.95zM1920.59,1353.91h2.95v2.95h-2.95zM1923.55,1353.91h2.95v2.95h-2.95zM1926.50,1353.91h2.95v2.95h-2.95zM1929.45,1353.91h2.95v2.95h-2.95zM1932.41,1353.91h2.95v2.95h-2.95zM1935.36,1353.91h2.95v2.95h-2.95zM1941.27,1353.91h2.95v2.95h-2.95zM1950.14,1353.91h2.95v2.95h-2.95zM1961.95,1353.91h2.95v2.95h-2.95zM1964.91,1353.91h2.95v2.95h-2.95zM1967.86,1353.91h2.95v2.95h-2.95zM1976.73,1353.91h2.95v2.95h-2.95zM1979.68,1353.91h2.95v2.95h-2.95zM1982.64,1353.91h2.95v2.95h-2.95zM1985.59,1353.91h2.95v2.95h-2.95zM1988.55,1353.91h2.95v2.95h-2.95zM1920.59,1356.86h2.95v2.95h-2.95zM1926.50,1356.86h2.95v2.95h-2.95zM1929.45,1356.86h2.95v2.95h-2.95zM1935.36,1356.86h2.95v2.95h-2.95zM1938.32,1356.86h2.95v2.95h-2.95zM1964.91,1356.86h2.95v2.95h-2.95zM1970.82,1356.86h2.95v2.95h-2.95zM1979.68,1356.86h2.95v2.95h-2.95zM1982.64,1356.86h2.95v2.95h-2.95zM1988.55,1356.86h2.95v2.95h-2.95zM1917.64,1359.82h2.95v2.95h-2.95zM1920.59,1359.82h2.95v2.95h-2.95zM1923.55,1359.82h2.95v2.95h-2.95zM1932.41,1359.82h2.95v2.95h-2.95zM1938.32,1359.82h2.95v2.95h-2.95zM1944.23,1359.82h2.95v2.95h-2.95zM1947.18,1359.82h2.95v2.95h-2.95zM1950.14,1359.82h2.95v2.95h-2.95zM1953.09,1359.82h2.95v2.95h-2.95zM1959.00,1359.82h2.95v2.95h-2.95zM1961.95,1359.82h2.95v2.95h-2.95zM1970.82,1359.82h2.95v2.95h-2.95zM1973.77,1359.82h2.95v2.95h-2.95zM1976.73,1359.82h2.95v2.95h-2.95zM1979.68,1359.82h2.95v2.95h-2.95zM1982.64,1359.82h2.95v2.95h-2.95zM1985.59,1359.82h2.95v2.95h-2.95zM1988.55,1359.82h2.95v2.95h-2.95zM1917.64,1362.77h2.95v2.95h-2.95zM1929.45,1362.77h2.95v2.95h-2.95zM1932.41,1362.77h2.95v2.95h-2.95zM1938.32,1362.77h2.95v2.95h-2.95zM1941.27,1362.77h2.95v2.95h-2.95zM1944.23,1362.77h2.95v2.95h-2.95zM1947.18,1362.77h2.95v2.95h-2.95zM1953.09,1362.77h2.95v2.95h-2.95zM1964.91,1362.77h2.95v2.95h-2.95zM1967.86,1362.77h2.95v2.95h-2.95zM1970.82,1362.77h2.95v2.95h-2.95zM1973.77,1362.77h2.95v2.95h-2.95zM1976.73,1362.77h2.95v2.95h-2.95zM1988.55,1362.77h2.95v2.95h-2.95zM1917.64,1365.73h2.95v2.95h-2.95zM1926.50,1365.73h2.95v2.95h-2.95zM1932.41,1365.73h2.95v2.95h-2.95zM1935.36,1365.73h2.95v2.95h-2.95zM1950.14,1365.73h2.95v2.95h-2.95zM1953.09,1365.73h2.95v2.95h-2.95zM1956.05,1365.73h2.95v2.95h-2.95zM1976.73,1365.73h2.95v2.95h-2.95zM1982.64,1365.73h2.95v2.95h-2.95zM1988.55,1365.73h2.95v2.95h-2.95zM1923.55,1368.68h2.95v2.95h-2.95zM1926.50,1368.68h2.95v2.95h-2.95zM1929.45,1368.68h2.95v2.95h-2.95zM1938.32,1368.68h2.95v2.95h-2.95zM1941.27,1368.68h2.95v2.95h-2.95zM1950.14,1368.68h2.95v2.95h-2.95zM1953.09,1368.68h2.95v2.95h-2.95zM1959.00,1368.68h2.95v2.95h-2.95zM1961.95,1368.68h2.95v2.95h-2.95zM1964.91,1368.68h2.95v2.95h-2.95zM1976.73,1368.68h2.95v2.95h-2.95zM1979.68,1368.68h2.95v2.95h-2.95zM1982.64,1368.68h2.95v2.95h-2.95zM1917.64,1371.64h2.95v2.95h-2.95zM1920.59,1371.64h2.95v2.95h-2.95zM1923.55,1371.64h2.95v2.95h-2.95zM1929.45,1371.64h2.95v2.95h-2.95zM1932.41,1371.64h2.95v2.95h-2.95zM1941.27,1371.64h2.95v2.95h-2.95zM1944.23,1371.64h2.95v2.95h-2.95zM1947.18,1371.64h2.95v2.95h-2.95zM1950.14,1371.64h2.95v2.95h-2.95zM1956.05,1371.64h2.95v2.95h-2.95zM1967.86,1371.64h2.95v2.95h-2.95zM1973.77,1371.64h2.95v2.95h-2.95zM1979.68,1371.64h2.95v2.95h-2.95zM1982.64,1371.64h2.95v2.95h-2.95zM1988.55,1371.64h2.95v2.95h-2.95zM1920.59,1374.59h2.95v2.95h-2.95zM1923.55,1374.59h2.95v2.95h-2.95zM1926.50,1374.59h2.95v2.95h-2.95zM1929.45,1374.59h2.95v2.95h-2.95zM1938.32,1374.59h2.95v2.95h-2.95zM1941.27,1374.59h2.95v2.95h-2.95zM1944.23,1374.59h2.95v2.95h-2.95zM1950.14,1374.59h2.95v2.95h-2.95zM1953.09,1374.59h2.95v2.95h-2.95zM1956.05,1374.59h2.95v2.95h-2.95zM1959.00,1374.59h2.95v2.95h-2.95zM1976.73,1374.59h2.95v2.95h-2.95zM1979.68,1374.59h2.95v2.95h-2.95zM1988.55,1374.59h2.95v2.95h-2.95zM1920.59,1377.55h2.95v2.95h-2.95zM1923.55,1377.55h2.95v2.95h-2.95zM1926.50,1377.55h2.95v2.95h-2.95zM1929.45,1377.55h2.95v2.95h-2.95zM1932.41,1377.55h2.95v2.95h-2.95zM1935.36,1377.55h2.95v2.95h-2.95zM1938.32,1377.55h2.95v2.95h-2.95zM1944.23,1377.55h2.95v2.95h-2.95zM1950.14,1377.55h2.95v2.95h-2.95zM1953.09,1377.55h2.95v2.95h-2.95zM1961.95,1377.55h2.95v2.95h-2.95zM1964.91,1377.55h2.95v2.95h-2.95zM1967.86,1377.55h2.95v2.95h-2.95zM1970.82,1377.55h2.95v2.95h-2.95zM1976.73,1377.55h2.95v2.95h-2.95zM1979.68,1377.55h2.95v2.95h-2.95zM1985.59,1377.55h2.95v2.95h-2.95zM1988.55,1377.55h2.95v2.95h-2.95z" fill="#14396A"/>
<text x="1942.75" y="1339" font-size="5.5" fill="#555" text-anchor="middle" font-weight="bold">EGD LEARNING</text>
<path d="M1942.75,1318 l-7,18 M1942.75,1318 l7,18 M1935,1327 q7.75,6 15.5,0" stroke="#666" stroke-width="0.8" fill="none"/>
<text transform="translate(1943,1392) scale(1,1.04)" font-size="9.3" fill="#222" text-anchor="middle" font-weight="normal" >www.egdlearning.co.za</text>
</svg></body></html>
